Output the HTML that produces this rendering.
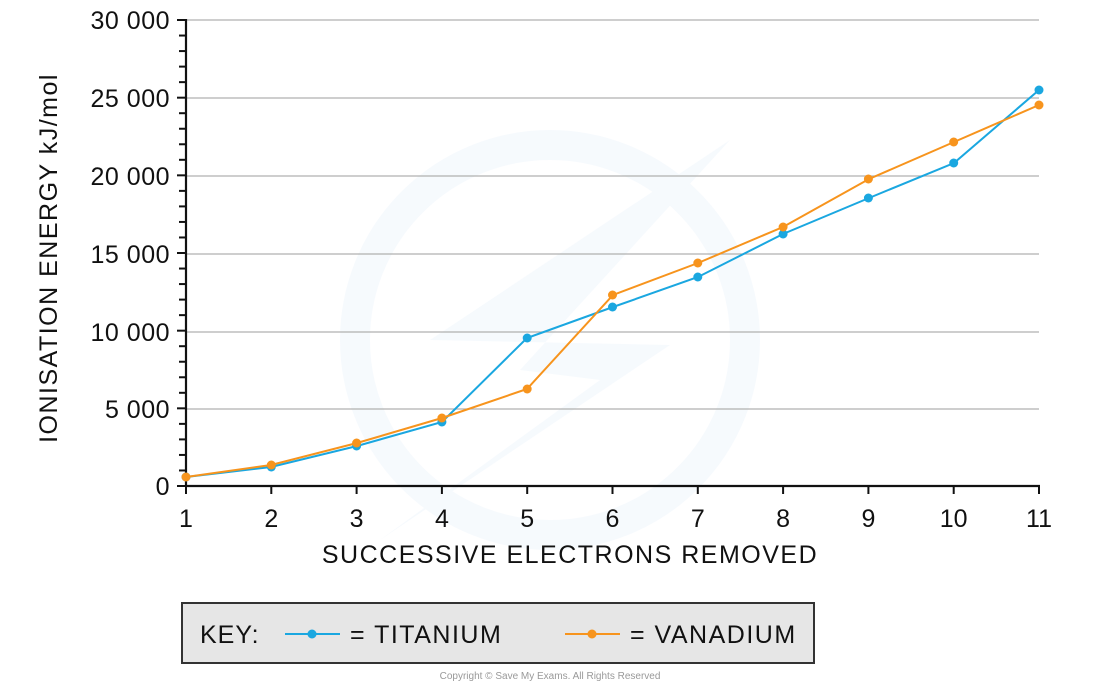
<!DOCTYPE html>
<html><head><meta charset="utf-8"><style>
body{margin:0;background:#fff;width:1100px;height:687px;overflow:hidden}
svg{display:block}
text{font-family:"Liberation Sans",sans-serif;fill:#111}
</style></head><body>
<svg width="1100" height="687" viewBox="0 0 1100 687">
<g opacity="0.035" fill="#2a7fd4">
<circle cx="550" cy="340" r="195" fill="none" stroke="#2a7fd4" stroke-width="30"/>
<polygon points="730,140 430,340 670,345 380,540 600,380 520,370"/>
</g>
<g stroke="#b0b0b0" stroke-width="1.2">
<line x1="186" y1="20" x2="1039" y2="20"/>
<line x1="186" y1="98" x2="1039" y2="98"/>
<line x1="186" y1="176" x2="1039" y2="176"/>
<line x1="186" y1="254" x2="1039" y2="254"/>
<line x1="186" y1="332" x2="1039" y2="332"/>
<line x1="186" y1="409" x2="1039" y2="409"/>
</g>
<g stroke="#111" stroke-width="2.2">
<line x1="186" y1="19" x2="186" y2="487"/>
<line x1="185" y1="486" x2="1040" y2="486"/>
</g>
<g stroke="#111" stroke-width="2" id="yt"></g>
<g stroke="#111" stroke-width="2" id="xt"></g>
<g font-size="25" text-anchor="end" letter-spacing="0.5">
<text x="170" y="29">30 000</text>
<text x="170" y="107">25 000</text>
<text x="170" y="185">20 000</text>
<text x="170" y="263">15 000</text>
<text x="170" y="341">10 000</text>
<text x="170" y="418">5 000</text>
<text x="170" y="495">0</text>
</g>
<g font-size="25" text-anchor="middle" id="xl"></g>
<text x="570" y="563" font-size="25" text-anchor="middle" letter-spacing="1.5">SUCCESSIVE  ELECTRONS  REMOVED</text>
<text transform="translate(57,258) rotate(-90)" font-size="25" text-anchor="middle" letter-spacing="1.5">IONISATION  ENERGY  kJ/mol</text>
<polyline fill="none" stroke="#1aa7e0" stroke-width="2" points="186,477 271,467 357,446 442,422 527,338 613,307 698,277 783,234 869,198 954,163 1039,90"/>
<g fill="#1aa7e0" id="tp"></g>
<polyline fill="none" stroke="#f7941d" stroke-width="2" points="186,477 271,465 357,443 442,418 527,389 613,295 698,263 783,227 869,179 954,142 1039,105"/>
<g fill="#f7941d" id="vp"></g>
<rect x="182" y="603" width="632" height="60" fill="#e6e6e6" stroke="#333" stroke-width="2"/>
<text x="200" y="643" font-size="25" letter-spacing="1">KEY:</text>
<line x1="285" y1="634" x2="340" y2="634" stroke="#1aa7e0" stroke-width="2"/><circle cx="312" cy="634" r="4.5" fill="#1aa7e0"/>
<text x="350" y="643" font-size="25" letter-spacing="1.5">= TITANIUM</text>
<line x1="565" y1="634" x2="620" y2="634" stroke="#f7941d" stroke-width="2"/><circle cx="592" cy="634" r="4.5" fill="#f7941d"/>
<text x="630" y="643" font-size="25" letter-spacing="1.5">= VANADIUM</text>
<text x="550" y="679" font-size="10" text-anchor="middle" style="fill:#999">Copyright © Save My Exams. All Rights Reserved</text>
</svg>
<script>
var ns="http://www.w3.org/2000/svg";
function el(p,t,a){var e=document.createElementNS(ns,t);for(var k in a)e.setAttribute(k,a[k]);document.getElementById(p).appendChild(e);return e;}
for(var i=0;i<=30;i++){var y=486-i*15.533;el("yt","line",{x1:i%5==0?177:179,y1:y,x2:186,y2:y});}
for(var i=0;i<11;i++){var x=186+i*85.3;el("xt","line",{x1:x,y1:486,x2:x,y2:494});var t=el("xl","text",{x:x,y:527});t.textContent=i+1;}
var tp=[477,467,446,422,338,307,277,234,198,163,90],vp=[477,465,443,418,389,295,263,227,179,142,105];
for(var i=0;i<11;i++){var x=186+i*85.3;el("tp","circle",{cx:x,cy:tp[i],r:4.5});}
for(var i=0;i<11;i++){var x=186+i*85.3;el("vp","circle",{cx:x,cy:vp[i],r:4.5});}
</script>
</body></html>
